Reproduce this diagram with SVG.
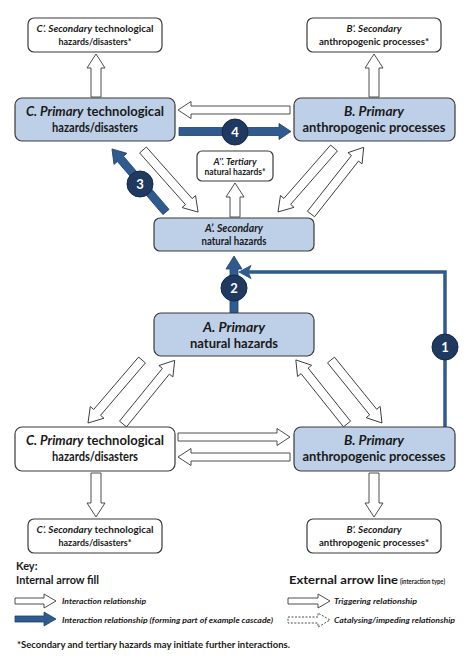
<svg xmlns="http://www.w3.org/2000/svg" width="474" height="669" viewBox="0 0 474 669">
<style>
text{font-family:Lato,"Liberation Sans",sans-serif;font-weight:bold;fill:#1a1a1a;text-anchor:middle}
.i{font-style:italic}
.big{font-size:14px}
.mid{font-size:11.5px}
.sm{font-size:10px}
.ti{font-size:9px}
.box{fill:#fff;stroke:#3a3a3a;stroke-width:1.2}
.blue{fill:#bdd0e8;stroke:#3a3a3a;stroke-width:1.2}
.ha{fill:#fff;stroke:#3a3a3a;stroke-width:0.9}
.ba{fill:#2f5b8f;stroke:#1f3f66;stroke-width:0.8}
.num{fill:#1f3960;stroke:#14284a;stroke-width:1}
.nt{fill:#fff;font-size:13px}
.k{text-anchor:start}
.ki{text-anchor:start;font-style:italic;font-size:8px}
</style>
<rect width="474" height="669" fill="#fff"/>
<g id="connectors">
<path class="ha" transform="translate(96,97) rotate(-90)" d="M0,-5 H29 V-9 L43,0 L29,9 V5 H0 Z"/>
<path class="ha" transform="translate(374,97) rotate(-90)" d="M0,-5 H29 V-9 L43,0 L29,9 V5 H0 Z"/>
<path class="ha" transform="translate(290,110) rotate(180)" d="M0,-4 H99 V-8.5 L112,0 L99,8.5 V4 H0 Z"/>
<path class="ba" transform="translate(179,131.5)" d="M0,-4 H100 V-8 L112,0 L100,8 V4 H0 Z"/>
<path class="ha" transform="translate(143,150) rotate(48.4)" d="M0,-4.5 H69 V-9 L83,0 L69,9 V4.5 H0 Z"/>
<path class="ba" transform="translate(166,212) rotate(-130.6)" d="M0,-4 H70 V-8.5 L83,0 L70,8.5 V4 H0 Z"/>
<path class="ha" transform="translate(235,217) rotate(-90)" d="M0,-5 H20 V-9 L34,0 L20,9 V5 H0 Z"/>
<path class="ha" transform="translate(334,148) rotate(131.2)" d="M0,-4.5 H71 V-9 L85,0 L71,9 V4.5 H0 Z"/>
<path class="ha" transform="translate(311,214) rotate(-51.7)" d="M0,-4.5 H71 V-9 L85,0 L71,9 V4.5 H0 Z"/>
<path class="ba" transform="translate(234,313) rotate(-90)" d="M0,-4 H44 V-8 L57,0 L44,8 V4 H0 Z"/>
<path d="M445,427 V272 H248" fill="none" stroke="#2f5b8f" stroke-width="3.5"/>
<path d="M239,272 L251,265.5 L248,272 L251,278.5 Z" fill="#2f5b8f" stroke="#2f5b8f" stroke-width="1"/>
<path class="ha" transform="translate(142,360) rotate(130.6)" d="M0,-4.5 H69 V-9 L83,0 L69,9 V4.5 H0 Z"/>
<path class="ha" transform="translate(123,424) rotate(-50.9)" d="M0,-4.5 H68 V-9 L82,0 L68,9 V4.5 H0 Z"/>
<path class="ha" transform="translate(331,360) rotate(51)" d="M0,-4.5 H67 V-9 L81,0 L67,9 V4.5 H0 Z"/>
<path class="ha" transform="translate(347,424) rotate(-128.6)" d="M0,-4.5 H68 V-9 L82,0 L68,9 V4.5 H0 Z"/>
<path class="ha" transform="translate(178,437)" d="M0,-4 H99 V-8.5 L112,0 L99,8.5 V4 H0 Z"/>
<path class="ha" transform="translate(290,457) rotate(180)" d="M0,-4 H99 V-8.5 L112,0 L99,8.5 V4 H0 Z"/>
<path class="ha" transform="translate(96,473) rotate(90)" d="M0,-5 H30 V-9 L44,0 L30,9 V5 H0 Z"/>
<path class="ha" transform="translate(374,473) rotate(90)" d="M0,-5 H30 V-9 L44,0 L30,9 V5 H0 Z"/>
<g id="labels">
<circle class="num" cx="445" cy="347" r="13"/><text class="nt" x="445" y="352">1</text>
<circle class="num" cx="234" cy="288" r="13"/><text class="nt" x="234" y="293">2</text>
<circle class="num" cx="140" cy="184" r="13"/><text class="nt" x="140" y="189">3</text>
<circle class="num" cx="235" cy="132" r="13"/><text class="nt" x="235" y="137">4</text>
</g>
</g>
<g id="nodeCp1">
<rect class="box" x="28" y="18" width="134" height="34" rx="6"/>
<text class="sm" x="95" y="32" textLength="117" lengthAdjust="spacingAndGlyphs"><tspan class="i">C’. Secondary</tspan> technological</text>
<text class="sm" x="95" y="45" textLength="73" lengthAdjust="spacingAndGlyphs">hazards/disasters*</text>
</g>
<g id="nodeBp1">
<rect class="box" x="307" y="18" width="134" height="34" rx="6"/>
<text class="sm i" x="374" y="32" textLength="55" lengthAdjust="spacingAndGlyphs">B’. Secondary</text>
<text class="sm" x="374" y="45" textLength="110" lengthAdjust="spacingAndGlyphs">anthropogenic processes*</text>
</g>
<g id="nodeC1">
<rect class="blue" x="15" y="98" width="160" height="43" rx="7"/>
<text class="big" x="95" y="116" textLength="138" lengthAdjust="spacingAndGlyphs"><tspan class="i">C. Primary</tspan> technological</text>
<text class="big" x="95" y="132" textLength="86" lengthAdjust="spacingAndGlyphs">hazards/disasters</text>
</g>
<g id="nodeB1">
<rect class="blue" x="294" y="98" width="161" height="43" rx="7"/>
<text class="big i" x="374" y="116" textLength="60" lengthAdjust="spacingAndGlyphs">B. Primary</text>
<text class="big" x="374" y="132" textLength="143" lengthAdjust="spacingAndGlyphs">anthropogenic processes</text>
</g>
<g id="nodeApp">
<rect class="box" x="197" y="151" width="76" height="30" rx="5"/>
<text class="ti i" x="235" y="165" textLength="43" lengthAdjust="spacingAndGlyphs">A’’. Tertiary</text>
<text class="ti" x="235" y="175" textLength="61" lengthAdjust="spacingAndGlyphs">natural hazards*</text>
</g>
<g id="nodeAp">
<rect class="blue" x="154" y="218" width="160" height="33" rx="6"/>
<text class="mid i" x="234" y="232" textLength="58" lengthAdjust="spacingAndGlyphs">A’. Secondary</text>
<text class="mid" x="234" y="245" textLength="65" lengthAdjust="spacingAndGlyphs">natural hazards</text>
</g>
<g id="nodeA">
<rect class="blue" x="154" y="313" width="160" height="43" rx="7"/>
<text class="big i" x="234" y="332" textLength="62" lengthAdjust="spacingAndGlyphs">A. Primary</text>
<text class="big" x="234" y="348" textLength="88" lengthAdjust="spacingAndGlyphs">natural hazards</text>
</g>
<g id="nodeC2">
<rect class="box" x="15" y="427" width="160" height="44" rx="7"/>
<text class="big" x="95" y="445" textLength="138" lengthAdjust="spacingAndGlyphs"><tspan class="i">C. Primary</tspan> technological</text>
<text class="big" x="95" y="461" textLength="86" lengthAdjust="spacingAndGlyphs">hazards/disasters</text>
</g>
<g id="nodeB2">
<rect class="blue" x="294" y="427" width="161" height="44" rx="7"/>
<text class="big i" x="374" y="445" textLength="60" lengthAdjust="spacingAndGlyphs">B. Primary</text>
<text class="big" x="374" y="461" textLength="143" lengthAdjust="spacingAndGlyphs">anthropogenic processes</text>
</g>
<g id="nodeCp2">
<rect class="box" x="28" y="519" width="134" height="34" rx="6"/>
<text class="sm" x="95" y="533" textLength="117" lengthAdjust="spacingAndGlyphs"><tspan class="i">C’. Secondary</tspan> technological</text>
<text class="sm" x="95" y="546" textLength="73" lengthAdjust="spacingAndGlyphs">hazards/disasters*</text>
</g>
<g id="nodeBp2">
<rect class="box" x="307" y="519" width="134" height="34" rx="6"/>
<text class="sm i" x="374" y="533" textLength="55" lengthAdjust="spacingAndGlyphs">B’. Secondary</text>
<text class="sm" x="374" y="546" textLength="110" lengthAdjust="spacingAndGlyphs">anthropogenic processes*</text>
</g>
<g id="key">
<text class="k" x="16" y="570" font-size="11">Key:</text>
<text class="k" x="16" y="584" font-size="11.5" textLength="83" lengthAdjust="spacingAndGlyphs">Internal arrow fill</text>
<text class="k" x="289" y="584" font-size="11.5" textLength="109" lengthAdjust="spacingAndGlyphs">External arrow line</text>
<text class="k" x="400" y="584" font-size="7.5" textLength="45" lengthAdjust="spacingAndGlyphs">(interaction type)</text>
<path class="ha" transform="translate(15,601)" d="M0,-3 H29 V-7 L41,0 L29,7 V3 H0 Z"/>
<path class="ba" transform="translate(15,619)" d="M0,-3 H29 V-7 L41,0 L29,7 V3 H0 Z"/>
<path class="ha" transform="translate(288,601)" d="M0,-3 H30 V-7 L42,0 L30,7 V3 H0 Z"/>
<path class="ha" transform="translate(288,620)" stroke-dasharray="2,1.5" d="M0,-3 H30 V-7 L42,0 L30,7 V3 H0 Z"/>
<text class="ki" x="62" y="604" textLength="84" lengthAdjust="spacingAndGlyphs">Interaction relationship</text>
<text class="ki" x="62" y="623" textLength="211" lengthAdjust="spacingAndGlyphs">Interaction relationship (forming part of example cascade)</text>
<text class="ki" x="334" y="604" textLength="83" lengthAdjust="spacingAndGlyphs">Triggering relationship</text>
<text class="ki" x="334" y="623" textLength="121" lengthAdjust="spacingAndGlyphs">Catalysing/impeding relationship</text>
<text class="k" x="17" y="648" font-size="9.5" textLength="273" lengthAdjust="spacingAndGlyphs">*Secondary and tertiary hazards may initiate further interactions.</text>
</g>
</svg>
